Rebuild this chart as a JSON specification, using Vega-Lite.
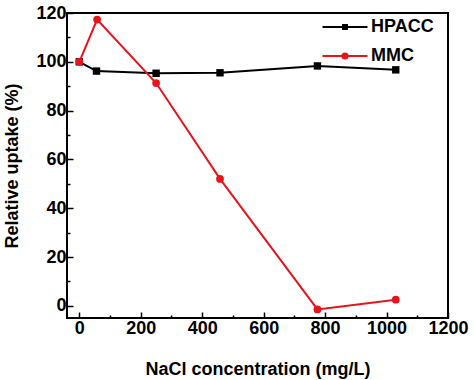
{
  "$schema": "https://vega.github.io/schema/vega-lite/v6.json",
  "autosize": "none",
  "width": 381,
  "height": 305,
  "padding": {"left": 67, "top": 13, "right": 26, "bottom": 62},
  "background": "white",
  "config": {
    "view": {"stroke": "black", "strokeWidth": 2},
    "font": "Liberation Sans",
    "axis": {
      "domain": false, "grid": false,
      "labelFont": "Liberation Sans", "labelFontWeight": "bold", "labelFontSize": 18, "labelColor": "black",
      "titleFont": "Liberation Sans", "titleFontWeight": "bold", "titleFontSize": 18, "titleColor": "black",
      "tickColor": "black", "tickWidth": 1.5, "labelPadding": 7
    }
  },
  "data": {
    "values": [
      {"x": 0, "y": 100, "s": "HPACC"},
      {"x": 56, "y": 96.2, "s": "HPACC"},
      {"x": 250, "y": 95.3, "s": "HPACC"},
      {"x": 458, "y": 95.5, "s": "HPACC"},
      {"x": 775, "y": 98.3, "s": "HPACC"},
      {"x": 1030, "y": 96.7, "s": "HPACC"},
      {"x": 0, "y": 100, "s": "MMC"},
      {"x": 58, "y": 117.3, "s": "MMC"},
      {"x": 250, "y": 91.3, "s": "MMC"},
      {"x": 458, "y": 52, "s": "MMC"},
      {"x": 775, "y": -1.5, "s": "MMC"},
      {"x": 1030, "y": 2.5, "s": "MMC"}
    ]
  },
  "encoding": {
    "x": {
      "field": "x", "type": "quantitative",
      "scale": {"domain": [-40, 1200], "nice": false, "zero": false},
      "axis": {
        "title": "NaCl concentration (mg/L)", "format": "d",
        "values": [0, 100, 200, 300, 400, 500, 600, 700, 800, 900, 1000, 1100, 1200],
        "labelExpr": "datum.value % 200 === 0 ? datum.label : ''",
        "tickSize": {"condition": {"test": "datum.value % 200 !== 0", "value": -3}, "value": -6},
        "titlePadding": 20, "labelFlush": false, "labelOverlap": false
      }
    },
    "y": {
      "field": "y", "type": "quantitative",
      "scale": {"domain": [-5, 120], "nice": false, "zero": false},
      "axis": {
        "title": "Relative uptake (%)",
        "values": [0, 10, 20, 30, 40, 50, 60, 70, 80, 90, 100, 110, 120],
        "labelExpr": "datum.value % 20 === 0 ? datum.label : ''",
        "tickSize": {"condition": {"test": "datum.value % 20 !== 0", "value": -3}, "value": -6},
        "titlePadding": 14, "labelFlush": false, "labelOverlap": false
      }
    }
  },
  "layer": [
    {
      "transform": [{"filter": "datum.s === 'HPACC'"}],
      "mark": {"type": "line", "strokeWidth": 2, "color": "black"}
    },
    {
      "transform": [{"filter": "datum.s === 'HPACC'"}],
      "mark": {"type": "point", "filled": true, "opacity": 1, "shape": "square", "color": "black", "size": 55}
    },
    {
      "transform": [{"filter": "datum.s === 'MMC'"}],
      "mark": {"type": "line", "strokeWidth": 2, "color": "#e8141c"}
    },
    {
      "transform": [{"filter": "datum.s === 'MMC'"}],
      "mark": {"type": "point", "filled": true, "opacity": 1, "shape": "circle", "color": "#e8141c", "size": 60}
    },
    {
      "mark": {"type": "point", "filled": false, "opacity": 0, "strokeWidth": 2},
      "encoding": {
        "color": {"field": "s", "type": "nominal", "scale": {"domain": ["HPACC", "MMC"], "range": ["black", "#e8141c"]},
          "legend": {
            "orient": "none", "legendX": 264, "legendY": 0, "title": null,
            "symbolSize": 676, "symbolStrokeWidth": 2, "symbolOpacity": 1,
            "labelOffset": 12, "labelFont": "Liberation Sans", "labelFontWeight": "bold", "labelFontSize": 18, "labelColor": "black",
            "rowPadding": 6, "padding": 0
          }
        },
        "shape": {"field": "s", "type": "nominal", "scale": {"domain": ["HPACC", "MMC"], "range": ["M-1.73,0H1.73M-0.15,-0.15H0.15V0.15H-0.15ZM-0.05,-0.05H0.05V0.05H-0.05Z", "M-1.73,0H1.73M0.2,0A0.2,0.2,0,1,1,-0.2,0A0.2,0.2,0,1,1,0.2,0ZM0.08,0A0.08,0.08,0,1,1,-0.08,0A0.08,0.08,0,1,1,0.08,0Z"]},
          "legend": {
            "orient": "none", "legendX": 264, "legendY": 0, "title": null,
            "symbolSize": 676, "symbolStrokeWidth": 2, "symbolOpacity": 1,
            "labelOffset": 12, "labelFont": "Liberation Sans", "labelFontWeight": "bold", "labelFontSize": 18, "labelColor": "black",
            "rowPadding": 6, "padding": 0
          }
        }
      }
    }
  ]
}
